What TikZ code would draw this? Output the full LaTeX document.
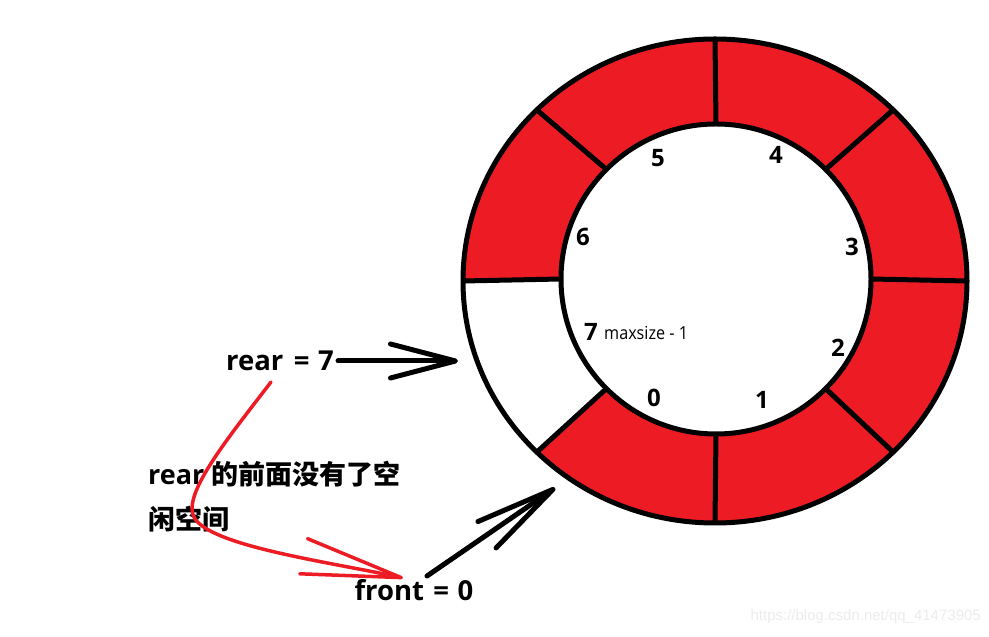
\documentclass[tikz,border=0pt]{standalone}
\usepackage{fontspec}
\setmainfont{Open Sans}
\newfontfamily\cjk{Noto Sans CJK SC}
\newfontfamily\wmfont{Liberation Sans}
\usetikzlibrary{arrows.meta,calc}
\definecolor{ringred}{HTML}{ED1C24}
\definecolor{wmgray}{HTML}{ECECEC}
\begin{document}
\begin{tikzpicture}[x=1pt,y=1pt,
  ringline/.style={line width=5pt},
  idx/.style={font=\fontsize{24}{28}\selectfont\bfseries, inner sep=0pt},
  lbl/.style={font=\fontsize{27.5}{30}\selectfont\bfseries, inner sep=0pt},
  note/.style={font=\fontsize{27}{30}\selectfont\bfseries, inner sep=0pt, anchor=west},
  blackarrow/.style={line width=5pt, line cap=round, -{Straight Barb[round,length=65pt,width=34pt]}},
  frontarrow/.style={line width=5pt, line cap=round, -{Straight Barb[round,length=80pt,width=32pt]}},
  redarrow/.style={draw=ringred, line width=3.5pt, line cap=round, -{Straight Barb[round,length=100pt,width=36pt]}}
]
\useasboundingbox (0,0) rectangle (989,637);
\coordinate (oc) at (715,356);
\coordinate (ic) at (716,358);
% ring fill
\fill[ringred, even odd rule] (oc) ellipse [x radius=252, y radius=242] (ic) circle [radius=155];
\fill[white] ($(oc)+(180:252 and 242)$) arc[start angle=180, end angle=225, x radius=252, y radius=242]
  -- ($(ic)+(225:155)$) arc[start angle=225, end angle=180, radius=155] -- cycle;
% ring outline
\draw[ringline] (oc) ellipse [x radius=252, y radius=242];
\draw[ringline] (ic) circle [radius=155];
\foreach \a in {0,45,...,315}{
  \draw[ringline] ($(oc)+(\a:252 and 242)$) -- ($(ic)+(\a:155)$);
}
% index labels
\node[idx] (i5) at (658,479) {5};
\node[idx] (i4) at (776,482) {4};
\node[idx] (i6) at (583,400) {6};
\node[idx] (i3) at (852,390) {3};
\node[idx] (i7) at (591,305) {7};
\node[inner sep=0pt, anchor=west, font=\fontsize{18}{20}\selectfont, xscale=0.9] (ms) at (604,304) {maxsize - 1};
\node[idx] (i2) at (838,289) {2};
\node[idx] (i0) at (654,239) {0};
\node[idx] (i1) at (762,237) {1};
% texts
\node[lbl] (rear) at (280,276) {rear\hspace{0.12em} = \hspace{0.05em}7};
\node[lbl] (front) at (414,47) {front\hspace{0.08em} = \hspace{0.05em}0};
\node[note] (n1) at (148,163) {rear {\cjk\bfseries 的前面没有了空}};
\node[note] (n2) at (148,118) {{\cjk\bfseries 闲空间}};
\node[inner sep=0pt, anchor=east, text=wmgray, font=\wmfont\fontsize{15}{18}\selectfont] (wm) at (981,20) {https://blog.csdn.net/qq\_41473905};
% arrows
\coordinate (rtip) at (458,276);
\coordinate (fstart) at (427,61);
\coordinate (ftip) at (555,149);
\coordinate (rstart) at (271,255);
\coordinate (rbend) at (195,118);
\coordinate (redtip) at (403,59);
\draw[blackarrow] (rear.east) ++(4,0) -- (rtip);
\draw[frontarrow] (fstart) -- (ftip);
\draw[redarrow] (rstart) .. controls (225,195) and (180,140) .. (rbend) .. controls (215,90) and (330,75) .. (redtip);
\end{tikzpicture}
\end{document}
